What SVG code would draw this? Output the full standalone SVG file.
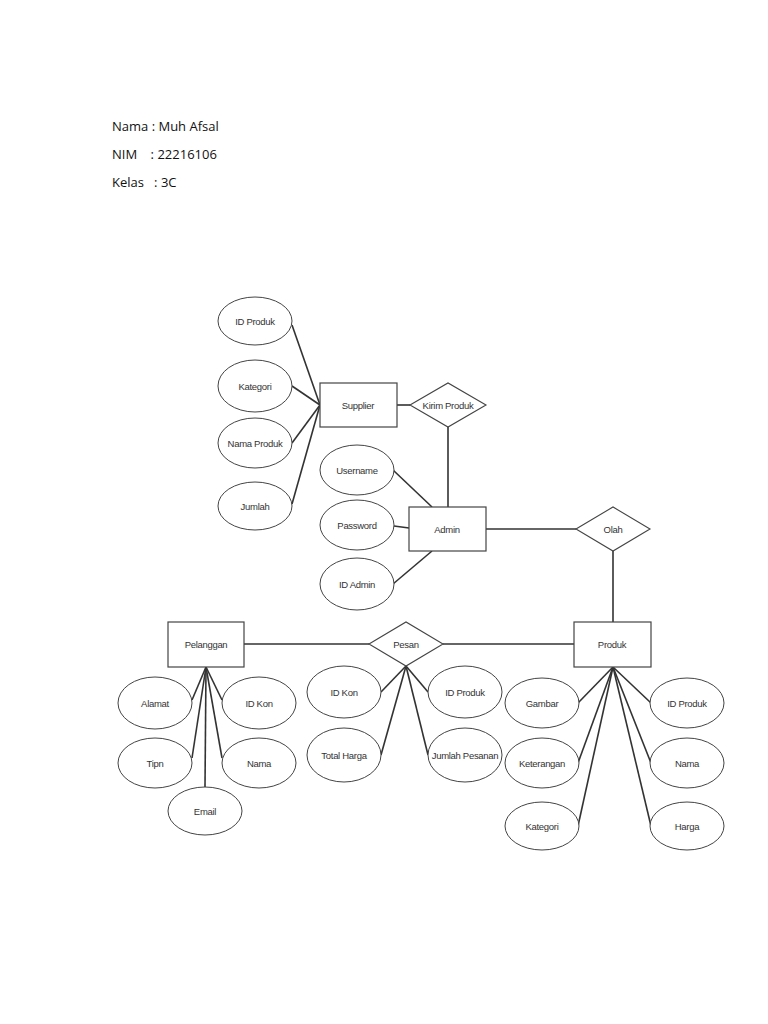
<svg xmlns="http://www.w3.org/2000/svg" width="768" height="1024" viewBox="0 0 768 1024">
<style>
.hdr{font-family:"Open Sans","Liberation Sans",sans-serif;font-size:13px;fill:#111}
.lbl{font-family:"Liberation Sans",Arial,sans-serif;font-size:9.5px;fill:#333;text-anchor:middle;dominant-baseline:central;letter-spacing:-0.3px}
.ent{fill:#fff;stroke:#444;stroke-width:1.2}
.att{fill:#fff;stroke:#444;stroke-width:1}
.rel{fill:#fff;stroke:#444;stroke-width:1.1}
.con line{stroke:#333;stroke-width:1.6}
</style>
<rect width="768" height="1024" fill="#fff"/>
<text class="hdr" x="112" y="131">Nama : Muh Afsal</text>
<text class="hdr" x="112" y="159" xml:space="preserve">NIM    : 22216106</text>
<text class="hdr" x="112" y="187" xml:space="preserve">Kelas   : 3C</text>

<g id="connectors" class="con">
<line x1="292" y1="325" x2="320" y2="405"/>
<line x1="292" y1="386" x2="320" y2="405"/>
<line x1="292" y1="443" x2="320" y2="405"/>
<line x1="292" y1="504" x2="320" y2="405"/>
<line x1="397" y1="405" x2="410" y2="405"/>
<line x1="448" y1="427" x2="448" y2="507"/>
<line x1="393" y1="470" x2="432" y2="507"/>
<line x1="394" y1="526" x2="409" y2="528"/>
<line x1="393" y1="584" x2="432" y2="551"/>
<line x1="486" y1="529" x2="576" y2="529"/>
<line x1="613" y1="551" x2="613" y2="622"/>
<line x1="244" y1="644" x2="369" y2="644"/>
<line x1="443" y1="644" x2="574" y2="644"/>
<line x1="192" y1="700" x2="206" y2="667"/>
<line x1="222" y1="700" x2="206" y2="667"/>
<line x1="192" y1="758" x2="206" y2="667"/>
<line x1="222" y1="758" x2="206" y2="667"/>
<line x1="205" y1="787" x2="206" y2="667"/>
<line x1="381" y1="692" x2="406" y2="666"/>
<line x1="428" y1="692" x2="406" y2="666"/>
<line x1="381" y1="755" x2="406" y2="666"/>
<line x1="428" y1="755" x2="406" y2="666"/>
<line x1="578" y1="703" x2="613" y2="667"/>
<line x1="578" y1="763" x2="613" y2="667"/>
<line x1="578" y1="826" x2="613" y2="667"/>
<line x1="651" y1="703" x2="613" y2="667"/>
<line x1="651" y1="763" x2="613" y2="667"/>
<line x1="651" y1="826" x2="613" y2="667"/>
</g>

<g id="supplier"><rect class="ent" x="320" y="383" width="77" height="44"/><text class="lbl" x="358" y="405">Supplier</text></g>
<g id="attr-id-produk-1"><ellipse class="att" cx="255" cy="321" rx="37" ry="24"/><text class="lbl" x="255" y="321">ID Produk</text></g>
<g id="attr-kategori-1"><ellipse class="att" cx="255" cy="386" rx="37" ry="26"/><text class="lbl" x="255" y="386">Kategori</text></g>
<g id="attr-nama-produk"><ellipse class="att" cx="255" cy="443" rx="37" ry="25"/><text class="lbl" x="255" y="443">Nama Produk</text></g>
<g id="attr-jumlah"><ellipse class="att" cx="255" cy="506" rx="37" ry="24"/><text class="lbl" x="255" y="506">Jumlah</text></g>

<g id="kirim-produk"><polygon class="rel" points="410,405 448,383 486,405 448,427"/><text class="lbl" x="448" y="405">Kirim Produk</text></g>

<g id="admin"><rect class="ent" x="409" y="507" width="77" height="44"/><text class="lbl" x="447" y="529">Admin</text></g>
<g id="attr-username"><ellipse class="att" cx="357" cy="470" rx="37" ry="25"/><text class="lbl" x="357" y="470">Username</text></g>
<g id="attr-password"><ellipse class="att" cx="357" cy="525" rx="37" ry="25"/><text class="lbl" x="357" y="525">Password</text></g>
<g id="attr-id-admin"><ellipse class="att" cx="357" cy="584" rx="37" ry="26"/><text class="lbl" x="357" y="584">ID Admin</text></g>

<g id="olah"><polygon class="rel" points="576,529 613,507 650,529 613,551"/><text class="lbl" x="613" y="529">Olah</text></g>

<g id="pelanggan"><rect class="ent" x="168" y="622" width="76" height="45"/><text class="lbl" x="206" y="644">Pelanggan</text></g>
<g id="attr-alamat"><ellipse class="att" cx="155" cy="703" rx="37" ry="26"/><text class="lbl" x="155" y="703">Alamat</text></g>
<g id="attr-id-kon-1"><ellipse class="att" cx="259" cy="703" rx="37" ry="26"/><text class="lbl" x="259" y="703">ID Kon</text></g>
<g id="attr-tipn"><ellipse class="att" cx="155" cy="763" rx="37" ry="25"/><text class="lbl" x="155" y="763">Tipn</text></g>
<g id="attr-nama-1"><ellipse class="att" cx="259" cy="763" rx="37" ry="25"/><text class="lbl" x="259" y="763">Nama</text></g>
<g id="attr-email"><ellipse class="att" cx="205" cy="811" rx="37" ry="24"/><text class="lbl" x="205" y="811">Email</text></g>

<g id="pesan"><polygon class="rel" points="369,644 406,622 443,644 406,666"/><text class="lbl" x="406" y="644">Pesan</text></g>
<g id="attr-id-kon-2"><ellipse class="att" cx="344" cy="692" rx="37" ry="26"/><text class="lbl" x="344" y="692">ID Kon</text></g>
<g id="attr-id-produk-2"><ellipse class="att" cx="465" cy="692" rx="37" ry="26"/><text class="lbl" x="465" y="692">ID Produk</text></g>
<g id="attr-total-harga"><ellipse class="att" cx="344" cy="755" rx="37" ry="27"/><text class="lbl" x="344" y="755">Total Harga</text></g>
<g id="attr-jumlah-pesanan"><ellipse class="att" cx="465" cy="755" rx="37" ry="27"/><text class="lbl" x="465" y="755">Jumlah Pesanan</text></g>

<g id="produk"><rect class="ent" x="574" y="622" width="77" height="45"/><text class="lbl" x="612" y="644">Produk</text></g>
<g id="attr-gambar"><ellipse class="att" cx="542" cy="703" rx="37" ry="25"/><text class="lbl" x="542" y="703">Gambar</text></g>
<g id="attr-keterangan"><ellipse class="att" cx="542" cy="763" rx="37" ry="25"/><text class="lbl" x="542" y="763">Keterangan</text></g>
<g id="attr-kategori-2"><ellipse class="att" cx="542" cy="826" rx="37" ry="24"/><text class="lbl" x="542" y="826">Kategori</text></g>
<g id="attr-id-produk-3"><ellipse class="att" cx="687" cy="703" rx="37" ry="25"/><text class="lbl" x="687" y="703">ID Produk</text></g>
<g id="attr-nama-2"><ellipse class="att" cx="687" cy="763" rx="37" ry="25"/><text class="lbl" x="687" y="763">Nama</text></g>
<g id="attr-harga"><ellipse class="att" cx="687" cy="826" rx="37" ry="24"/><text class="lbl" x="687" y="826">Harga</text></g>
</svg>
